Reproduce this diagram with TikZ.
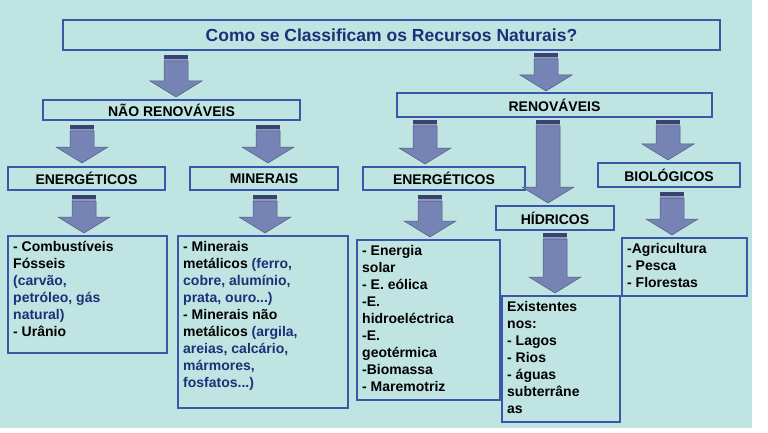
\documentclass[tikz,border=0pt]{standalone}
\usepackage{fontspec}
\setmainfont{Liberation Sans}
\definecolor{bg}{HTML}{BFE4E2}
\definecolor{bord}{HTML}{3B57A8}
\definecolor{navy}{HTML}{1E2F78}
\definecolor{arr}{HTML}{7584B4}
\definecolor{arrd}{HTML}{3A4270}
\tikzset{
 cat/.style={draw=bord,line width=2pt,fill=bg,font=\bfseries\fontsize{14}{16}\selectfont,inner sep=0pt},
 leafbox/.style={draw=bord,line width=2pt,fill=bg},
 leaf/.style={font=\bfseries\fontsize{14}{17}\selectfont,align=left,anchor=north west,inner sep=5pt},
 barrow/.style={fill=arr,draw=arr!70!black,line width=0.5pt}
}
\newcommand{\garrow}[3]{% x, ytop, ybot
 \fill[arrd] (#1-12,#2) rectangle (#1+12,#2+4);
 \fill[arr!80!white] (#1-12,#2+4) rectangle (#1+12,#2+6);
 \draw[barrow] (#1-12,#2+6) -- (#1+12,#2+6) -- (#1+12,#3-16) -- (#1+26,#3-16) -- (#1,#3) -- (#1-26,#3-16) -- (#1-12,#3-16) -- cycle;
}
\begin{document}
\begin{tikzpicture}[x=1pt,y=-1pt]
\useasboundingbox (0,0) rectangle (768,433);
\fill[white] (0,0) rectangle (768,433);
\fill[bg] (0,0) rectangle (752,428);
\node[cat,minimum width=657,minimum height=30,font=\bfseries\fontsize{17.5}{20}\selectfont,text=navy] (title) at (391.5,35) {Como se Classificam os Recursos Naturais?};
\node[cat,minimum width=257,minimum height=20] (nr) at (171.5,110) {NÃO RENOVÁVEIS};
\node[cat,minimum width=315,minimum height=24] (r) at (554.5,105) {RENOVÁVEIS};
\node[cat,minimum width=157,minimum height=23] (e1) at (86.5,178.5) {ENERGÉTICOS};
\node[cat,minimum width=148,minimum height=23] (m) at (264,178.5) {MINERAIS};
\node[cat,minimum width=162,minimum height=23] (e2) at (444,178.5) {ENERGÉTICOS};
\node[cat,minimum width=118,minimum height=24] (h) at (555,218) {HÍDRICOS};
\node[cat,minimum width=142,minimum height=24] (b) at (669,175) {BIOLÓGICOS};
\draw[leafbox] (8,236) rectangle (167,353);
\node[leaf] (l1) at (8,236) {- Combustíveis\\Fósseis\\\textcolor{navy}{(carvão,}\\\textcolor{navy}{petróleo, gás}\\\textcolor{navy}{natural)}\\- Urânio};
\draw[leafbox] (178,236) rectangle (348,408);
\node[leaf] (l2) at (178,236) {- Minerais\\metálicos \textcolor{navy}{(ferro,}\\\textcolor{navy}{cobre, alumínio,}\\\textcolor{navy}{prata, ouro...)}\\- Minerais não\\metálicos \textcolor{navy}{(argila,}\\\textcolor{navy}{areias, calcário,}\\\textcolor{navy}{mármores,}\\\textcolor{navy}{fosfatos...)}};
\draw[leafbox] (357,240) rectangle (500,400);
\node[leaf] (l3) at (357,240) {- Energia\\solar\\- E. eólica\\-E.\\hidroeléctrica\\-E.\\geotérmica\\-Biomassa\\- Maremotriz};
\draw[leafbox] (502,296) rectangle (620,422);
\node[leaf] (l4) at (502,296) {Existentes\\nos:\\- Lagos\\- Rios\\- águas\\subterrâne\\as};
\draw[leafbox] (622,238) rectangle (747,296);
\node[leaf] (l5) at (622,238) {-Agricultura\\- Pesca\\- Florestas};
\garrow{176}{55}{97}
\garrow{546}{53}{91}
\garrow{82}{125}{163}
\garrow{268}{125}{163}
\garrow{425}{120}{164}
\garrow{548}{120}{203}
\garrow{668}{120}{160}
\garrow{84}{195}{233}
\garrow{265}{195}{233}
\garrow{430}{195}{237}
\garrow{555}{233}{293}
\garrow{672}{192}{235}
\end{tikzpicture}
\end{document}
